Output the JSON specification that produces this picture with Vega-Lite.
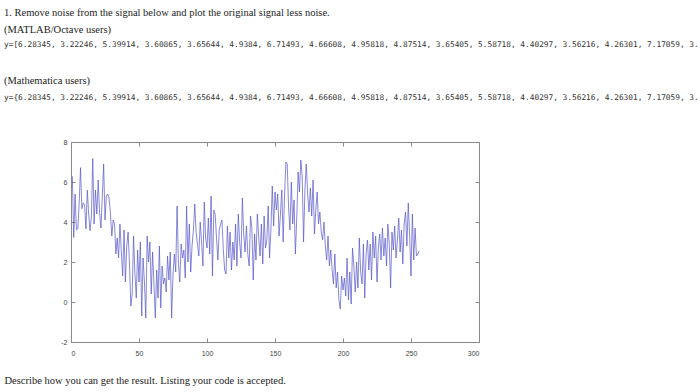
{
  "$schema": "https://vega.github.io/schema/vega-lite/v6.json",
  "padding": {"left": 3, "top": 7, "right": 0, "bottom": 0},
  "background": "white",
  "config": {
    "view": {"stroke": "#8a8a8a", "strokeWidth": 1},
    "axis": {
      "domain": false, "grid": false, "tickColor": "#8a8a8a", "tickSize": -4, "tickWidth": 1,
      "labelFont": "Liberation Sans", "labelFontSize": 7, "labelColor": "#444", "labelPadding": 8
    }
  },
  "title": {
    "text": ["1. Remove noise from the signal below and plot the original signal less noise.", "(MATLAB/Octave users)"],
    "subtitle": "y=[6.28345, 3.22246, 5.39914, 3.60865, 3.65644, 4.9384, 6.71493, 4.66608, 4.95818, 4.87514, 3.65405, 5.58718, 4.40297, 3.56216, 4.26301, 7.17059, 3.",
    "anchor": "start", "frame": "group", "dx": -67,
    "font": "Liberation Serif", "fontSize": 10.5, "fontWeight": "normal", "color": "#222", "lineHeight": 17,
    "subtitleFont": "DejaVu Sans Mono", "subtitleFontSize": 7.8, "subtitleColor": "#333", "subtitlePadding": 6,
    "offset": 26
  },
  "vconcat": [
    {
      "title": {
        "text": "(Mathematica users)",
        "subtitle": "y={6.28345, 3.22246, 5.39914, 3.60865, 3.65644, 4.9384, 6.71493, 4.66608, 4.95818, 4.87514, 3.65405, 5.58718, 4.40297, 3.56216, 4.26301, 7.17059, 3.",
        "anchor": "start", "frame": "group", "dx": -67,
        "font": "Liberation Serif", "fontSize": 10.5, "fontWeight": "normal", "color": "#222",
        "subtitleFont": "DejaVu Sans Mono", "subtitleFontSize": 7.8, "subtitleColor": "#333", "subtitlePadding": 8,
        "offset": 36
      },
      "width": 408,
      "height": 200,
      "data": {"values": [
        {"n":1,"y":6.28345},{"n":2,"y":3.22246},{"n":3,"y":5.39914},{"n":4,"y":3.60865},{"n":5,"y":3.65644},{"n":6,"y":4.9384},{"n":7,"y":6.71493},{"n":8,"y":4.66608},{"n":9,"y":4.95818},{"n":10,"y":4.87514},
        {"n":11,"y":3.65405},{"n":12,"y":5.58718},{"n":13,"y":4.40297},{"n":14,"y":3.56216},{"n":15,"y":4.26301},{"n":16,"y":7.17059},{"n":17,"y":3.9},{"n":18,"y":5.6},{"n":19,"y":4.4},{"n":20,"y":6.1},
        {"n":21,"y":4.5},{"n":22,"y":3.7},{"n":23,"y":5.2},{"n":24,"y":6.9},{"n":25,"y":4.1},{"n":26,"y":5.3},{"n":27,"y":5.4},{"n":28,"y":5.2},{"n":29,"y":4.4},{"n":30,"y":3.3},
        {"n":31,"y":4.1},{"n":32,"y":3.9},{"n":33,"y":2.4},{"n":34,"y":3.2},{"n":35,"y":2.2},{"n":36,"y":3.9},{"n":37,"y":2.5},{"n":38,"y":1.3},{"n":39,"y":3.6},{"n":40,"y":1.0},
        {"n":41,"y":2.8},{"n":42,"y":3.5},{"n":43,"y":1.9},{"n":44,"y":-0.2},{"n":45,"y":0.4},{"n":46,"y":3.3},{"n":47,"y":1.4},{"n":48,"y":0.2},{"n":49,"y":2.6},{"n":50,"y":1.0},
        {"n":51,"y":3.0},{"n":52,"y":-0.7},{"n":53,"y":2.2},{"n":54,"y":1.0},{"n":55,"y":-0.8},{"n":56,"y":3.3},{"n":57,"y":2.0},{"n":58,"y":3.0},{"n":59,"y":0.4},{"n":60,"y":2.5},
        {"n":61,"y":0.9},{"n":62,"y":-0.8},{"n":63,"y":1.6},{"n":64,"y":0.2},{"n":65,"y":2.8},{"n":66,"y":-0.3},{"n":67,"y":1.8},{"n":68,"y":0.9},{"n":69,"y":1.2},{"n":70,"y":0.5},
        {"n":71,"y":2.3},{"n":72,"y":1.1},{"n":73,"y":2.5},{"n":74,"y":-0.8},{"n":75,"y":1.4},{"n":76,"y":2.4},{"n":77,"y":1.5},{"n":78,"y":4.8},{"n":79,"y":1.9},{"n":80,"y":1.0},
        {"n":81,"y":2.9},{"n":82,"y":2.2},{"n":83,"y":2.6},{"n":84,"y":1.2},{"n":85,"y":4.8},{"n":86,"y":2.0},{"n":87,"y":3.9},{"n":88,"y":1.5},{"n":89,"y":2.8},{"n":90,"y":3.6},
        {"n":91,"y":4.9},{"n":92,"y":3.5},{"n":93,"y":2.9},{"n":94,"y":2.3},{"n":95,"y":4.0},{"n":96,"y":3.0},{"n":97,"y":1.8},{"n":98,"y":5.0},{"n":99,"y":3.2},{"n":100,"y":2.7},
        {"n":101,"y":4.2},{"n":102,"y":2.4},{"n":103,"y":5.3},{"n":104,"y":1.3},{"n":105,"y":4.6},{"n":106,"y":4.4},{"n":107,"y":3.2},{"n":108,"y":2.1},{"n":109,"y":3.6},{"n":110,"y":3.9},
        {"n":111,"y":4.1},{"n":112,"y":2.6},{"n":113,"y":1.6},{"n":114,"y":1.4},{"n":115,"y":3.8},{"n":116,"y":2.2},{"n":117,"y":3.5},{"n":118,"y":1.6},{"n":119,"y":3.0},{"n":120,"y":2.1},
        {"n":121,"y":3.9},{"n":122,"y":1.8},{"n":123,"y":4.4},{"n":124,"y":3.0},{"n":125,"y":2.2},{"n":126,"y":5.2},{"n":127,"y":3.4},{"n":128,"y":2.5},{"n":129,"y":3.8},{"n":130,"y":2.4},
        {"n":131,"y":1.8},{"n":132,"y":4.3},{"n":133,"y":3.7},{"n":134,"y":1.1},{"n":135,"y":3.4},{"n":136,"y":2.1},{"n":137,"y":4.4},{"n":138,"y":3.3},{"n":139,"y":2.3},{"n":140,"y":3.9},
        {"n":141,"y":1.9},{"n":142,"y":4.3},{"n":143,"y":2.7},{"n":144,"y":3.1},{"n":145,"y":4.8},{"n":146,"y":2.2},{"n":147,"y":3.6},{"n":148,"y":5.8},{"n":149,"y":3.8},{"n":150,"y":5.5},
        {"n":151,"y":4.6},{"n":152,"y":5.4},{"n":153,"y":3.3},{"n":154,"y":4.4},{"n":155,"y":5.6},{"n":156,"y":3.0},{"n":157,"y":5.3},{"n":158,"y":7.0},{"n":159,"y":6.9},{"n":160,"y":4.7},
        {"n":161,"y":3.6},{"n":162,"y":6.0},{"n":163,"y":3.9},{"n":164,"y":5.1},{"n":165,"y":2.4},{"n":166,"y":4.2},{"n":167,"y":6.5},{"n":168,"y":5.5},{"n":169,"y":7.1},{"n":170,"y":6.3},
        {"n":171,"y":3.0},{"n":172,"y":5.6},{"n":173,"y":6.9},{"n":174,"y":5.4},{"n":175,"y":4.5},{"n":176,"y":5.7},{"n":177,"y":4.3},{"n":178,"y":6.1},{"n":179,"y":3.4},{"n":180,"y":4.6},
        {"n":181,"y":5.5},{"n":182,"y":3.9},{"n":183,"y":4.5},{"n":184,"y":3.5},{"n":185,"y":3.1},{"n":186,"y":4.0},{"n":187,"y":2.8},{"n":188,"y":2.1},{"n":189,"y":3.3},{"n":190,"y":1.8},
        {"n":191,"y":2.6},{"n":192,"y":1.6},{"n":193,"y":0.9},{"n":194,"y":2.4},{"n":195,"y":0.7},{"n":196,"y":1.5},{"n":197,"y":0.1},{"n":198,"y":-0.35},{"n":199,"y":1.3},{"n":200,"y":0.6},
        {"n":201,"y":1.2},{"n":202,"y":0.3},{"n":203,"y":2.2},{"n":204,"y":0.1},{"n":205,"y":1.5},{"n":206,"y":-0.1},{"n":207,"y":2.7},{"n":208,"y":1.8},{"n":209,"y":0.5},{"n":210,"y":2.0},
        {"n":211,"y":0.7},{"n":212,"y":3.2},{"n":213,"y":1.5},{"n":214,"y":0.9},{"n":215,"y":2.9},{"n":216,"y":0.2},{"n":217,"y":2.4},{"n":218,"y":3.1},{"n":219,"y":1.6},{"n":220,"y":2.9},
        {"n":221,"y":1.1},{"n":222,"y":3.5},{"n":223,"y":2.2},{"n":224,"y":3.3},{"n":225,"y":1.0},{"n":226,"y":2.7},{"n":227,"y":3.4},{"n":228,"y":2.1},{"n":229,"y":3.7},{"n":230,"y":2.3},
        {"n":231,"y":3.2},{"n":232,"y":1.8},{"n":233,"y":3.9},{"n":234,"y":2.9},{"n":235,"y":0.7},{"n":236,"y":3.5},{"n":237,"y":2.6},{"n":238,"y":3.8},{"n":239,"y":2.2},{"n":240,"y":3.1},
        {"n":241,"y":4.2},{"n":242,"y":2.5},{"n":243,"y":3.6},{"n":244,"y":1.9},{"n":245,"y":3.9},{"n":246,"y":4.5},{"n":247,"y":2.8},{"n":248,"y":4.95},{"n":249,"y":3.3},{"n":250,"y":1.3},
        {"n":251,"y":4.4},{"n":252,"y":2.1},{"n":253,"y":3.7},{"n":254,"y":2.3},{"n":255,"y":2.4},{"n":256,"y":2.55}
      ]},
      "layer": [
        {
          "mark": {"type": "line", "color": "#5454c8", "strokeWidth": 0.7},
          "encoding": {
            "x": {"field": "n", "type": "quantitative", "scale": {"domain": [0, 300], "nice": false},
              "axis": {"orient": "bottom", "values": [0, 50, 100, 150, 200, 250, 300], "labelPadding": 11,
                "title": "Describe how you can get the result. Listing your code is accepted.",
                "titleFont": "Liberation Serif", "titleFontSize": 10.5, "titleFontWeight": "normal", "titleColor": "#222",
                "titleAnchor": "start", "titleAlign": "left", "titleX": -67, "titleY": 41, "titleBaseline": "alphabetic"}},
            "y": {"field": "y", "type": "quantitative", "scale": {"domain": [-2, 8], "nice": false, "zero": false},
              "axis": {"orient": "left", "values": [-2, 0, 2, 4, 6, 8], "labelExpr": "'' + datum.value", "title": null}}
          }
        },
        {
          "mark": {"type": "line", "strokeOpacity": 0},
          "encoding": {
            "x": {"field": "n", "type": "quantitative", "scale": {"domain": [0, 300], "nice": false},
              "axis": {"orient": "top", "values": [0, 50, 100, 150, 200, 250, 300], "labels": false, "title": null}},
            "y": {"field": "y", "type": "quantitative", "scale": {"domain": [-2, 8], "nice": false, "zero": false},
              "axis": {"orient": "right", "values": [-2, 0, 2, 4, 6, 8], "labels": false, "title": null}}
          }
        }
      ],
      "resolve": {"axis": {"x": "independent", "y": "independent"}}
    }
  ]
}
